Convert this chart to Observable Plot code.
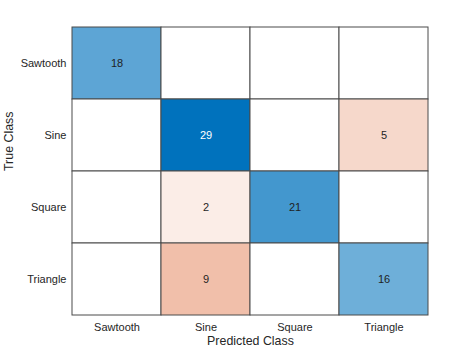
<!DOCTYPE html>
<html>
<head>
<meta charset="utf-8">
<script src="https://cdn.jsdelivr.net/npm/d3@7"></script>
<script src="https://cdn.jsdelivr.net/npm/@observablehq/plot@0.6"></script>
<style>
  html, body { margin: 0; padding: 0; background: #fff; }
  #chart { width: 474px; height: 355px; }
</style>
</head>
<body>
<div id="chart"></div>
<script>
// Class names (rows = true class, columns = predicted class)
const classes = ["Sawtooth", "Sine", "Square", "Triangle"];
// Confusion counts: counts[trueIndex][predictedIndex]
const counts = [
  [18, 0, 0, 0],
  [0, 29, 0, 5],
  [0, 2, 21, 0],
  [0, 9, 0, 16]
];
const xTitle = "Predicted Class";
const yTitle = "True Class";

const maxCount = d3.max(counts.flat());
const cells = [];
counts.forEach((row, i) => row.forEach((v, j) => {
  cells.push({trueClass: classes[i], predClass: classes[j], value: v, diag: i === j});
}));

const blue = d3.interpolateRgb("#ffffff", "#0072BD");
const orange = d3.interpolateRgb("#ffffff", "#D95319");
function cellColor(d) {
  if (d.value === 0) return "#ffffff";
  const t = d.value / maxCount;
  return d.diag ? blue(Math.pow(t, 0.95)) : orange(Math.pow(t, 0.85));
}

const chart = Plot.plot({
  width: 474,
  height: 355,
  marginLeft: 71,
  marginRight: 45,
  marginTop: 26,
  marginBottom: 40,
  style: {fontFamily: "'Liberation Sans', Arial, sans-serif", fontSize: "11px", color: "#262626", background: "#fff"},
  color: {type: "identity"},
  x: {domain: classes, padding: 0, label: null},
  y: {domain: classes, padding: 0, label: null},
  marks: [
    Plot.cell(cells, {x: "predClass", y: "trueClass", fill: cellColor, stroke: "#4a4a4a", strokeWidth: 1, inset: 0}),
    Plot.text(cells.filter(d => d.value > 0), {
      x: "predClass", y: "trueClass", text: d => String(d.value),
      fill: d => (d.diag && d.value / maxCount > 0.8) ? "#ffffff" : "#1f1f1f",
      fontSize: 11
    }),
    Plot.axisX({tickSize: 0, tickPadding: 8, label: null, fontSize: 11, fill: "#262626"}),
    Plot.axisY({tickSize: 0, tickPadding: 5, label: null, fontSize: 11, fill: "#262626"}),
    Plot.text([xTitle], {frameAnchor: "bottom", dy: 29, text: d => d, fontSize: 12.4, fill: "#262626"}),
    Plot.text([yTitle], {frameAnchor: "left", dx: -62, rotate: -90, text: d => d, fontSize: 12.4, fill: "#262626"})
  ]
});
document.getElementById("chart").appendChild(chart);
</script>
</body>
</html>
